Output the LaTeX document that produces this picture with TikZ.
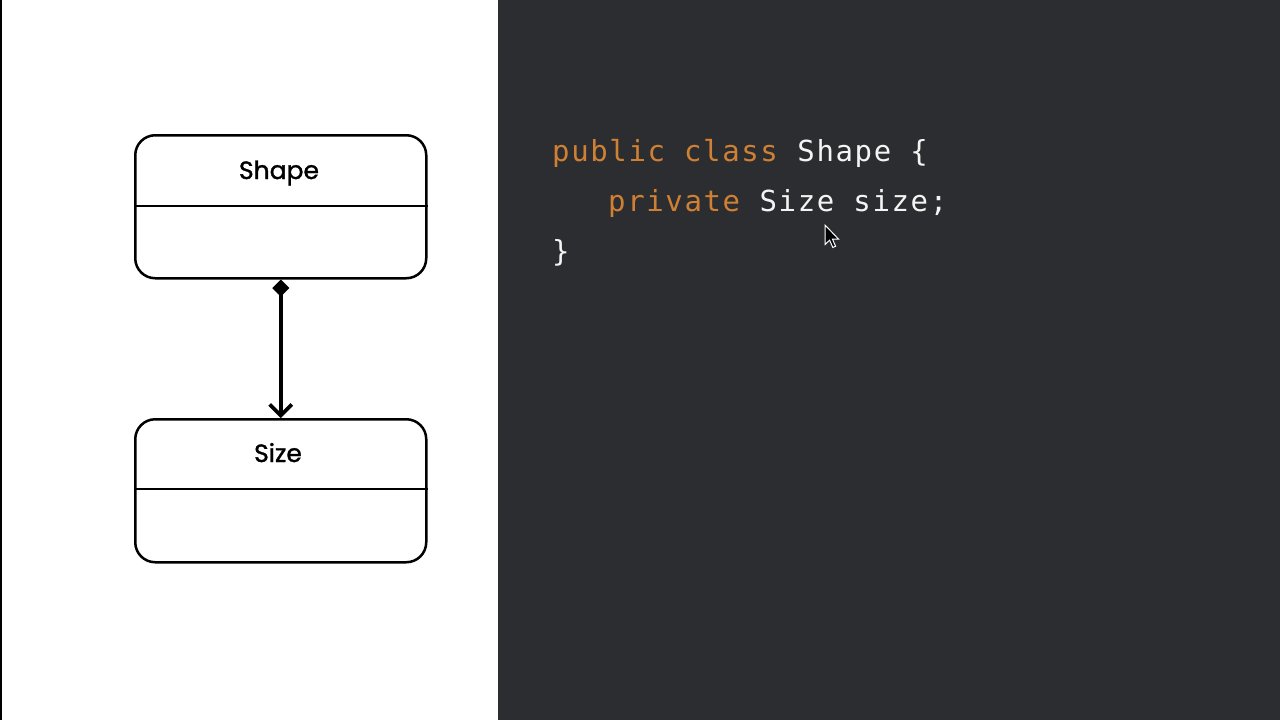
\documentclass[tikz,border=0pt]{standalone}
\usepackage{fontspec}
\usetikzlibrary{arrows.meta}
\newfontfamily\popfont[FakeBold=1.3]{Poppins}
\newfontfamily\codefont[LetterSpace=5.6]{DejaVu Sans Mono}
\definecolor{panel}{HTML}{2B2D30}
\definecolor{kw}{HTML}{CF8034}
\definecolor{plain}{HTML}{F4F4F4}
\tikzset{
  classbox/.style={draw=black, line width=2.5pt, rounded corners=20pt},
  divider/.style={draw=black, line width=2.3pt},
  classname/.style={font=\popfont\fontsize{25}{30}\selectfont, text=black, inner sep=0pt},
  codetxt/.style={font=\codefont\fontsize{29}{34}\selectfont, anchor=base west, inner sep=0pt},
  compose/.style={line width=3.6pt, {Diamond[length=17pt,width=17pt]}-{Straight Barb[length=11pt,width=22pt]}},
}
\begin{document}
\begin{tikzpicture}[x=1pt,y=-1pt]
\useasboundingbox (0,0) rectangle (1280,720);
\fill[white] (0,0) rectangle (498,720);
\fill[panel] (498,0) rectangle (1280,720);
\draw[black, line width=1.5pt] (0.75,0) -- (0.75,720);
% class boxes
\node[classbox, minimum width=291pt, minimum height=143pt, anchor=north west] (shapebox) at (134,134) {};
\draw[divider] (shapebox.west |- 0,206) coordinate (sd1) -- (shapebox.east |- 0,206) coordinate (sd2);
\node[classname, anchor=base] (shapename) at (279,179) {Shape};
\node[classbox, minimum width=291pt, minimum height=143pt, anchor=north west] (sizebox) at (134,418) {};
\draw[divider] (sizebox.west |- 0,489) coordinate (zd1) -- (sizebox.east |- 0,489) coordinate (zd2);
\node[classname, anchor=base] (sizename) at (278,462) {Size};
% composition connector
\draw[compose] (shapebox.south) -- (sizebox.north);
% code
\node[codetxt, text=kw] (c1) at (552,161) {public class};
\node[codetxt, text=plain] (c2) at (c1.base east) {\ Shape \{};
\node[codetxt, text=kw] (c3) at (608,211) {private};
\node[codetxt, text=plain] (c4) at (c3.base east) {\ Size size;};
\node[codetxt, text=plain] (c5) at (552,261) {\}};
% mouse cursor
\begin{scope}[shift={(825,225)}, scale=1.15]
\draw[fill=black, draw=white, line width=1pt, line join=miter]
  (0,0) -- (0,17) -- (4,13.2) -- (6.8,19.5) -- (9.2,18.5) -- (6.5,12.3) -- (11.8,12.3) -- cycle;
\end{scope}
\end{tikzpicture}
\end{document}
